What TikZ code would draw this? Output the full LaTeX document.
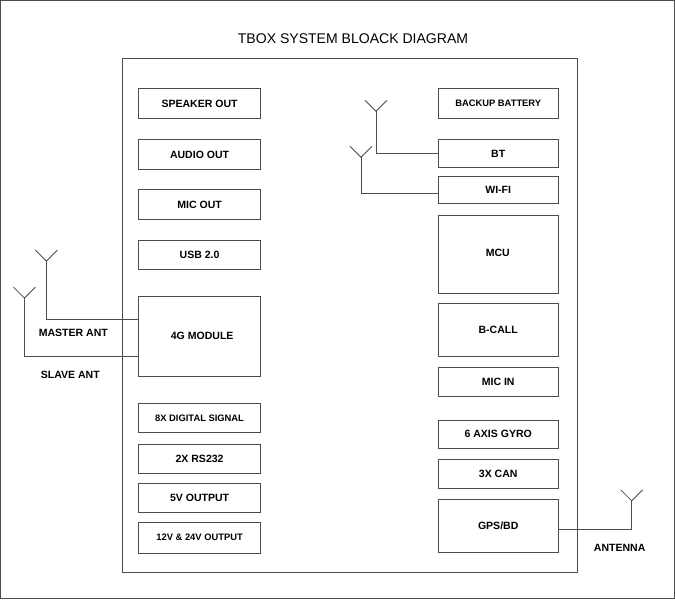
\documentclass[tikz,border=0pt]{standalone}
\usepackage{fontspec}
\setmainfont{Liberation Sans}
\usetikzlibrary{positioning}
\newcommand{\antsym}[1]{\draw (#1) -- ++(0,10) -- ++(-11,11) ++(11,-11) -- ++(11,11);}
\begin{document}
\begin{tikzpicture}[x=0.03cm,y=-0.03cm,
                  box/.style={rectangle,draw,inner sep=0pt,anchor=north west,font=\bfseries\small},
                  desc/.style={draw=none,font=\bfseries\small},
                  every path/.style={draw=black!70,line width=0.7pt},
            ]
            \useasboundingbox (0,0) rectangle (675,599);
            \node[font=\large] (title) at (353,38) {TBOX SYSTEM BLOACK DIAGRAM};
            \draw (122,58) rectangle (578,573);

            % left column
            \node[box,minimum width=122*0.03cm,minimum height=30*0.03cm] (spk) at (138,88) {SPEAKER OUT};
            \node[box,minimum width=122*0.03cm,minimum height=30*0.03cm] (aud) at (138,139) {AUDIO OUT};
            \node[box,minimum width=122*0.03cm,minimum height=30*0.03cm] (mic) at (138,189) {MIC OUT};
            \node[box,minimum width=122*0.03cm,minimum height=29*0.03cm] (usb) at (138,240) {USB 2.0};
            \node[box,minimum width=122*0.03cm,minimum height=80*0.03cm] (g4) at (138,296) {};
            \node[desc] (g4t) at (202,336) {4G MODULE};
            \node[box,minimum width=122*0.03cm,minimum height=29*0.03cm,font=\bfseries\footnotesize] (dig) at (138,403) {8X DIGITAL SIGNAL};
            \node[box,minimum width=122*0.03cm,minimum height=29*0.03cm] (rs) at (138,444) {2X RS232};
            \node[box,minimum width=122*0.03cm,minimum height=29*0.03cm] (v5) at (138,483) {5V OUTPUT};
            \node[box,minimum width=122*0.03cm,minimum height=31*0.03cm,font=\bfseries\footnotesize] (v12) at (138,522) {12V \& 24V OUTPUT};

            % right column
            \node[box,minimum width=120*0.03cm,minimum height=30*0.03cm,font=\bfseries\footnotesize] (bat) at (438,88) {BACKUP BATTERY};
            \node[box,minimum width=120*0.03cm,minimum height=28*0.03cm] (bt) at (438,139) {BT};
            \node[box,minimum width=120*0.03cm,minimum height=27*0.03cm] (wifi) at (438,176) {WI-FI};
            \node[box,minimum width=120*0.03cm,minimum height=78*0.03cm] (mcu) at (438,215) {};
            \node[desc] (mcut) at (498,253) {MCU};
            \node[box,minimum width=120*0.03cm,minimum height=53*0.03cm] (bcall) at (438,303) {B-CALL};
            \node[box,minimum width=120*0.03cm,minimum height=29*0.03cm] (micin) at (438,367) {MIC IN};
            \node[box,minimum width=120*0.03cm,minimum height=28*0.03cm] (gyro) at (438,420) {6 AXIS GYRO};
            \node[box,minimum width=120*0.03cm,minimum height=29*0.03cm] (can) at (438,459) {3X CAN};
            \node[box,minimum width=120*0.03cm,minimum height=53*0.03cm] (gps) at (438,499) {GPS/BD};

            % antennas
            \coordinate (am) at (46,250);
            \coordinate (as) at (24,287);
            \coordinate (ab) at (376,100);
            \coordinate (aw) at (361,146);
            \coordinate (ag) at (632,490);
            \draw (am) ++(0,10) |- (g4.west |- 0,319);
            \draw (as) ++(0,10) |- (g4.west |- 0,356);
            \draw (ab) ++(0,10) |- (bt.west);
            \draw (aw) ++(0,10) |- (wifi.west |- 0,193);
            \draw (ag) ++(0,10) |- (gps.east |- 0,530);
            \foreach \a in {am,as,ab,aw,ag} {
                  \draw (\a) ++(-11,0) -- ++(11,11) -- ++(11,-11);
            }
            \node[desc] (mlab) at (73,333) {MASTER ANT};
            \node[desc] (slab) at (70,375) {SLAVE ANT};
            \node[desc] (glab) at (620,548) {ANTENNA};
      \end{tikzpicture}
\end{document}
